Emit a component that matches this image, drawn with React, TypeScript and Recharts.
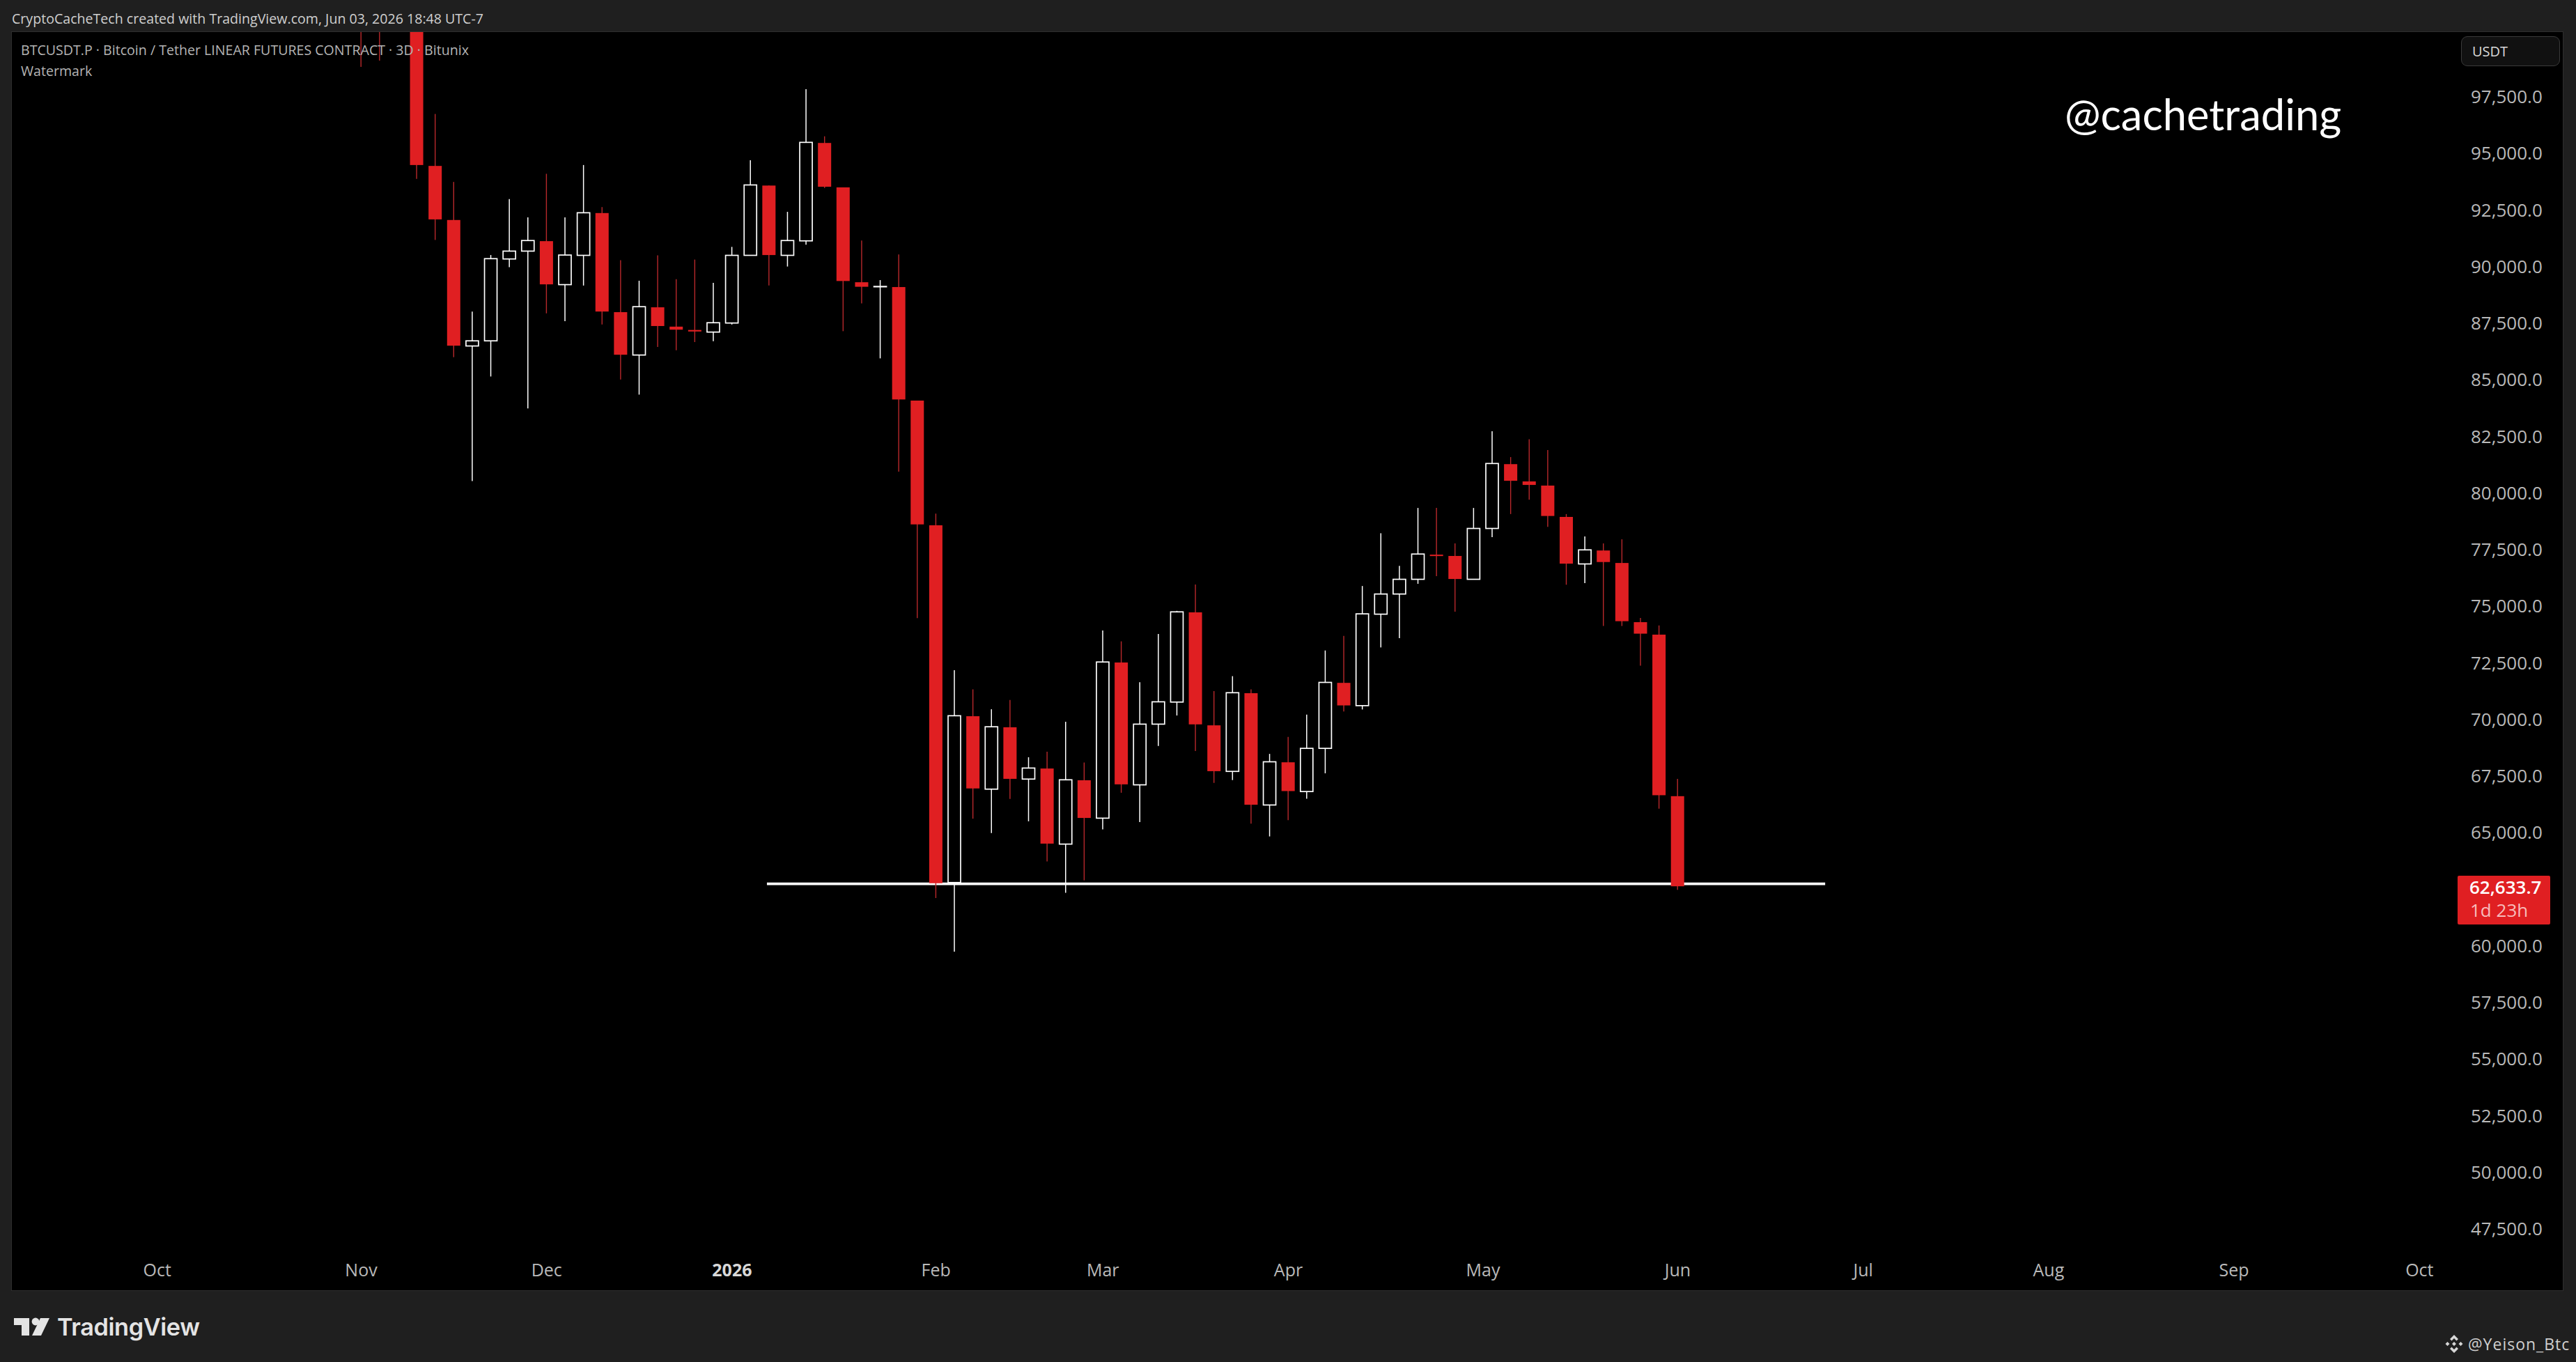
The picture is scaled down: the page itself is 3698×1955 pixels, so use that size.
import React from 'react';
import { ComposedChart, Bar, XAxis, YAxis, ReferenceLine } from 'recharts';

const W = 3698;
const H = 1955;
const RED = '#e01f22';
const TEXT = '#b9b9b9';
const UI_FONT = '"Open Sans", "Noto Sans", sans-serif';

// candle index of the first row below (the first bars run off the top of the panel)
const FIRST_INDEX = -3;

const OPENS = [
  104500, 103800, 103200, 102800, 94449, 92061, 86497, 86724, 90340, 90687, 91127, 89206, 90500, 92368, 87991, 86097,
  88205, 87351, 87204, 87111, 87511, 90500, 93582, 90500, 91140, 95463, 93502, 89312, 89112, 89099, 84085, 78577,
  62800, 70145, 66924, 69657, 67369, 67835, 64497, 67316, 65642, 72518, 67114, 69795, 70770, 74733, 69742, 67708,
  71162, 66224, 68110, 66818, 68725, 71618, 70612, 74652, 75542, 76192, 77280, 77223, 76192, 78438, 81278, 80515,
  80331, 78947, 76870, 77464, 76913, 74299, 73748, 66614,
];
const HIGHS = [
  105500, 104800, 104300, 103800, 96744, 93742, 88018, 90513, 92982, 92181, 94102, 92181, 94489, 92635, 90286, 89379,
  90500, 89446, 90313, 89286, 90873, 94703, 93582, 92421, 97839, 95757, 93502, 91154, 89406, 90540, 84085, 79090,
  72179, 71332, 70452, 70865, 68333, 68577, 69901, 68100, 73928, 73451, 71649, 73779, 74797, 75962, 71257, 71914,
  71332, 68481, 69234, 70219, 73048, 73695, 75896, 78226, 76786, 79343, 79343, 77774, 79343, 82733, 81589, 82380,
  81899, 79074, 78085, 77774, 77958, 74483, 74158, 67377,
];
const LOWS = [
  98823, 99100, 100900, 93876, 91180, 86003, 80533, 85149, 89979, 83735, 87938, 87591, 89166, 87444, 85016, 84349,
  86457, 86310, 86670, 86710, 87444, 90500, 89166, 90006, 90967, 93475, 87151, 88378, 85950, 80946, 74475, 62113,
  59750, 65620, 64985, 66489, 65504, 63734, 62346, 62897, 65144, 66765, 65472, 68831, 70177, 68608, 67199, 67326,
  65398, 64836, 65557, 66500, 67623, 70357, 70443, 73183, 73593, 75994, 76333, 74765, 76192, 78057, 79074, 79710,
  78509, 75952, 76023, 74130, 74130, 72378, 66063, 62475,
];
const CLOSES = [
  103800, 103200, 102800, 94489, 92088, 86510, 86724, 90353, 90687, 91154, 89219, 90513, 92381, 88018, 86110, 88232,
  87378, 87217, 87137, 87524, 90500, 93609, 90513, 91154, 95490, 93529, 89366, 89112, 89126, 84135, 78617, 62770,
  70166, 66955, 69679, 67379, 67856, 64518, 67337, 65652, 72540, 67136, 69795, 70781, 74754, 69785, 67718, 71183,
  66235, 68132, 66839, 68725, 71639, 70622, 74666, 75542, 76192, 77308, 77252, 76206, 78438, 81306, 80543, 80360,
  78989, 76884, 77492, 76955, 74342, 73791, 66656, 62633.7,
];

const MONTH_TICKS = [-14, -3, 7, 17, 28, 37, 47, 57.5, 68, 78, 88, 98, 108];
const MONTH_LABELS = ['Oct', 'Nov', 'Dec', '2026', 'Feb', 'Mar', 'Apr', 'May', 'Jun', 'Jul', 'Aug', 'Sep', 'Oct'];
const PRICE_TICKS = [
  47500, 50000, 52500, 55000, 57500, 60000, 65000, 67500, 70000, 72500, 75000, 77500, 80000, 82500, 85000,
  87500, 90000, 92500, 95000, 97500,
];

const SUPPORT_PRICE = 62743;
const SUPPORT_FROM = 18.88;
const SUPPORT_TO = 75.95;

const candles = OPENS.map((open, i) => ({
  index: FIRST_INDEX + i,
  open,
  high: HIGHS[i],
  low: LOWS[i],
  close: CLOSES[i],
  range: [LOWS[i], HIGHS[i]],
}));

function Candle(props: any) {
  const { x, y, width, height, payload } = props;
  const { open, close, high, low } = payload;
  const top = Math.min(y, y + height);
  const span = Math.abs(height);
  const toY = (v: number) => top + ((high - v) / (high - low)) * span;
  const cx = x + width / 2;
  const bodyTop = toY(Math.max(open, close));
  const bodyBottom = toY(Math.min(open, close));
  if (close >= open) {
    return (
      <g>
        <line x1={cx} x2={cx} y1={top} y2={top + span} stroke="#ffffff" strokeWidth={1.5} />
        <rect x={x + 1} y={bodyTop} width={width - 2} height={Math.max(bodyBottom - bodyTop, 0.5)} fill="#000000" stroke="#ffffff" strokeWidth={1.7} />
      </g>
    );
  }
  return (
    <g>
      <line x1={cx} x2={cx} y1={top} y2={top + span} stroke="#b8282b" strokeWidth={1.4} />
      <rect x={x + 0.5} y={bodyTop} width={width - 1} height={Math.max(bodyBottom - bodyTop, 2)} fill={RED} />
    </g>
  );
}

function MonthTick(props: any) {
  const { x, y, payload } = props;
  const label = MONTH_LABELS[MONTH_TICKS.indexOf(payload.value)];
  const isYear = label === '2026';
  return (
    <text x={x} y={y} dy={27} textAnchor="middle" fontFamily={UI_FONT} fontSize={25} fontWeight={isYear ? 700 : 400} fill={isYear ? '#d8d8d8' : TEXT}>
      {label}
    </text>
  );
}

function Abs({ x, y, size, color, weight, spacing, font, children }: any) {
  return (
    <div
      style={{
        position: 'absolute', left: x, top: y, transform: 'translateY(-50%)', fontFamily: font ?? UI_FONT, fontSize: size,
        color, fontWeight: weight ?? 400, letterSpacing: spacing ?? 0, whiteSpace: 'nowrap', lineHeight: 1,
      }}
    >
      {children}
    </div>
  );
}

export default function App() {
  return (
    <div style={{ position: 'absolute', left: 0, top: 0, width: W, height: H, background: '#1f1f1f', overflow: 'hidden' }}>
      <div style={{ position: 'absolute', left: 16, top: 45, width: 3664, height: 1808, background: '#000', border: '1px solid #2e2e2e', boxSizing: 'border-box' }} />

      <div style={{ position: 'absolute', left: 0, top: 0 }}>
        <ComposedChart
          width={W}
          height={H}
          data={candles}
          margin={{ top: 46, left: 17, right: 18, bottom: 102 }}
        >
          <XAxis
            dataKey="index"
            type="number"
            domain={[-21.84, 110.13]}
            allowDataOverflow
            ticks={MONTH_TICKS}
            interval={0}
            axisLine={false}
            tickLine={false}
            height={68}
            tickMargin={14}
            tick={<MonthTick />}
          />
          <YAxis
            orientation="right"
            type="number"
            domain={[46854, 100362]}
            allowDataOverflow
            ticks={PRICE_TICKS}
            interval={0}
            width={150}
            axisLine={false}
            tickLine={false}
            tickMargin={11}
            tick={{ fontFamily: UI_FONT, fontSize: 26, fill: TEXT }}
            tickFormatter={(v: number) => `${v.toLocaleString('en-US')}.0`}
          />
          <ReferenceLine
            segment={[{ x: SUPPORT_FROM, y: SUPPORT_PRICE }, { x: SUPPORT_TO, y: SUPPORT_PRICE }]}
            stroke="#ffffff"
            strokeWidth={3.6}
            zIndex={100}
          />
          <Bar dataKey="range" barSize={20} shape={<Candle />} isAnimationActive={false} />
        </ComposedChart>
      </div>

      <Abs x={17} y={27} size={19.6} color="#cfcfcf">CryptoCacheTech created with TradingView.com, Jun 03, 2026 18:48 UTC-7</Abs>
      <Abs x={30} y={72} size={19.6} color="#b4b4b4">BTCUSDT.P · Bitcoin / Tether LINEAR FUTURES CONTRACT · 3D · Bitunix</Abs>
      <Abs x={30} y={102} size={19.6} color="#b4b4b4">Watermark</Abs>

      <Abs x={2964} y={164} size={61.5} color="#ffffff" font='Lato, "Open Sans", sans-serif'>@cachetrading</Abs>

      <div style={{ position: 'absolute', left: 3533, top: 52, width: 142, height: 43, boxSizing: 'border-box', background: '#111111', border: '1.5px solid #3a3a3a', borderRadius: 9 }} />
      <Abs x={3549} y={74} size={20} color="#d8d8d8">USDT</Abs>

      <div style={{ position: 'absolute', left: 3528, top: 1257, width: 133, height: 70, background: RED, borderRadius: 2 }} />
      <Abs x={3545} y={1273} size={26} weight={600} color="#ffffff">62,633.7</Abs>
      <Abs x={3546} y={1306} size={26} color="#f7bcbc">1d 23h</Abs>

      <svg style={{ position: 'absolute', left: 20, top: 1891 }} width={52} height={27} viewBox="0 0 52 27">
        <path d="M0 1 H22 V26 H11 V11 H0 Z" fill="#e4e4e4" />
        <circle cx={31} cy={6} r={5.4} fill="#e4e4e4" />
        <path d="M38 1 H51 L39 26 H26 Z" fill="#e4e4e4" />
      </svg>
      <Abs x={82} y={1905} size={34.3} weight={600} spacing={-0.4} color="#e4e4e4" font='Inter, sans-serif'>TradingView</Abs>

      <svg style={{ position: 'absolute', left: 3509, top: 1915 }} width={28} height={28} viewBox="0 0 28 28">
        <g fill="#d6d6d6">
          <path d="M14 1 L20 7 L17.5 9.5 L14 6 L10.5 9.5 L8 7 Z" />
          <path d="M14 27 L8 21 L10.5 18.5 L14 22 L17.5 18.5 L20 21 Z" />
          <path d="M14 11 L17 14 L14 17 L11 14 Z" />
          <path d="M4.5 11 L7.5 14 L4.5 17 L1.5 14 Z" />
          <path d="M23.5 11 L26.5 14 L23.5 17 L20.5 14 Z" />
        </g>
      </svg>
      <Abs x={3543} y={1929} size={23} spacing={1} color="#cfcfcf">@Yeison_Btc</Abs>
    </div>
  );
}
